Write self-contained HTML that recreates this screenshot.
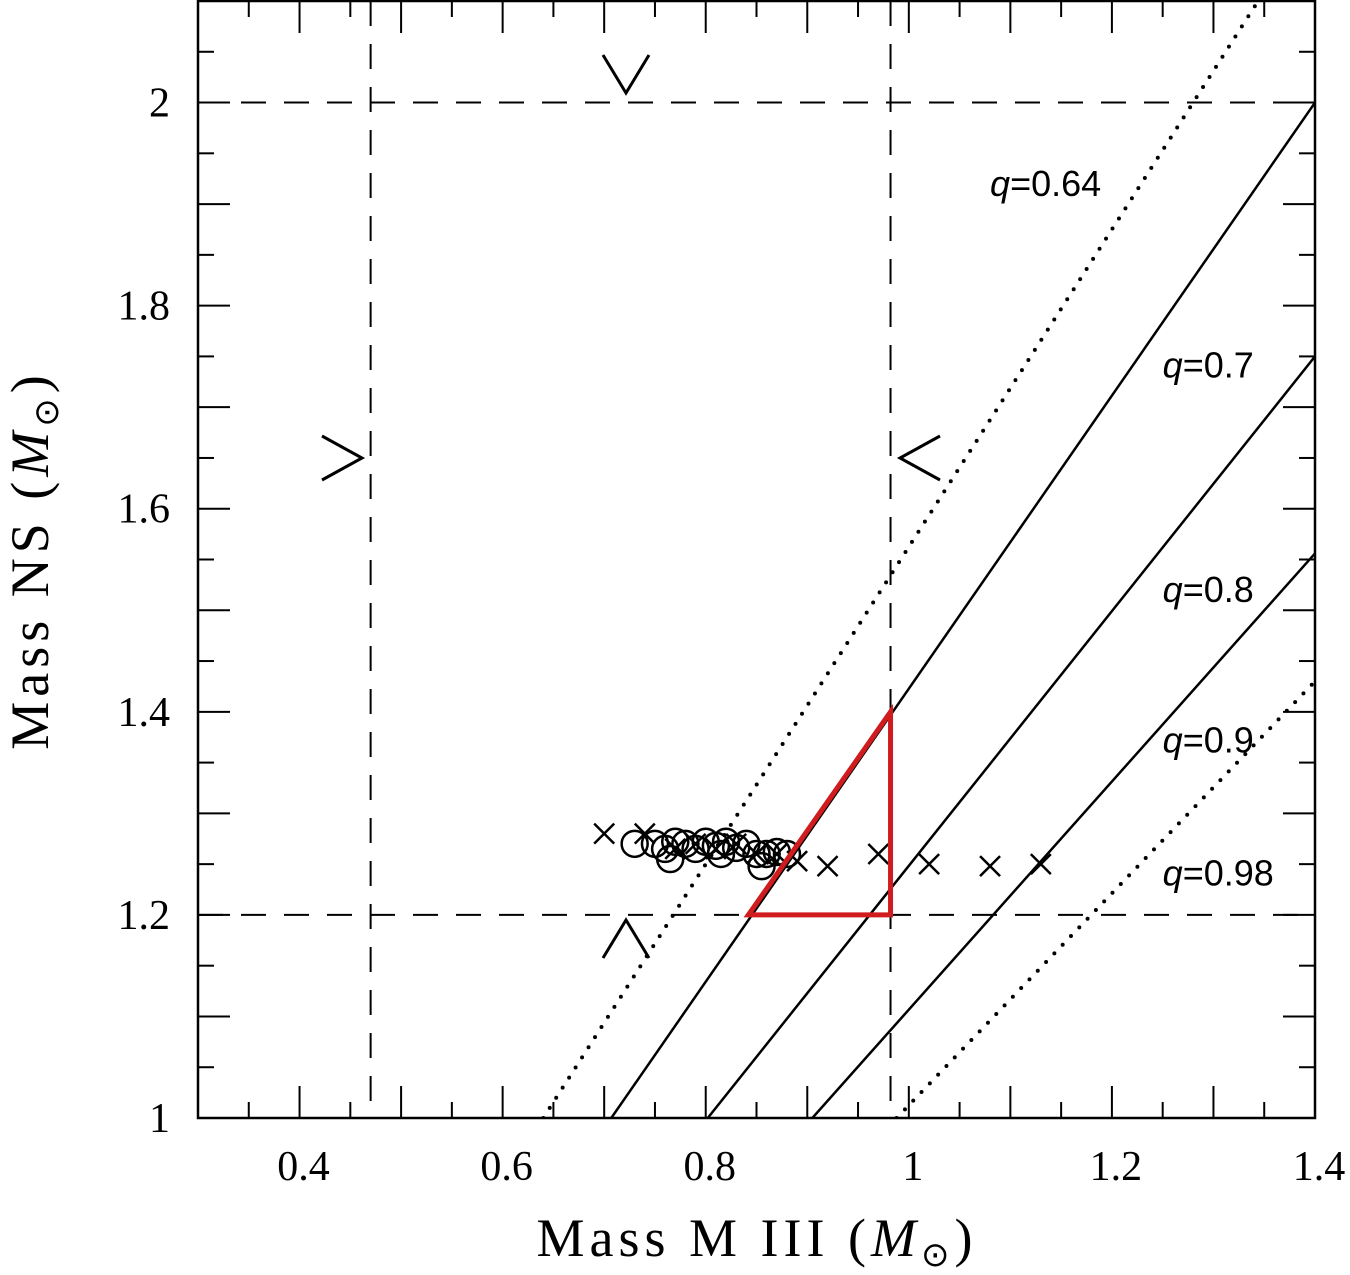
<!DOCTYPE html>
<html><head><meta charset="utf-8"><style>
html,body{margin:0;padding:0;background:#fff;width:1350px;height:1275px;overflow:hidden}
svg{display:block}
</style></head><body>
<svg id="chart" width="1350" height="1275" viewBox="0 0 1350 1275" xmlns="http://www.w3.org/2000/svg">
<g id="plot"></g>
</svg>
<script>
const xTicks=[0.4,0.6,0.8,1,1.2,1.4];
const xTickLabels=["0.4","0.6","0.8","1","1.2","1.4"];
const yTicks=[1,1.2,1.4,1.6,1.8,2];
const yTickLabels=["1","1.2","1.4","1.6","1.8","2"];
const qLabels=["0.64","0.7","0.8","0.9","0.98"];
const qDotted=[true,false,false,false,true];
const qStartX=[0.640,0.707,0.802,0.905,0.988];
const qEndY=[2.1875,2.0,1.75,1.556,1.43];
const qLabelX=[1.08,1.25,1.25,1.25,1.25];
const qLabelY=[1.908,1.729,1.508,1.36,1.229];
const limitX=[0.47,0.982];
const limitY=[1.2,2.0];
const triangleX=[0.842,0.982,0.982];
const triangleY=[1.2,1.2,1.4];
const crossX=[0.70,0.74,0.77,0.79,0.81,0.83,0.85,0.87,0.89,0.92,0.97,1.02,1.08,1.13];
const crossY=[1.28,1.28,1.265,1.27,1.265,1.27,1.26,1.26,1.253,1.248,1.26,1.25,1.248,1.25];
const circX=[0.73,0.75,0.76,0.765,0.77,0.78,0.79,0.80,0.81,0.815,0.82,0.83,0.84,0.85,0.855,0.86,0.87,0.88];
const circY=[1.27,1.27,1.265,1.255,1.272,1.27,1.265,1.272,1.268,1.26,1.272,1.266,1.27,1.26,1.248,1.26,1.262,1.26];

const X0=0.3,X1=1.4,Y0=1,Y1=2.1,L=198,R=1315,T=1,B=1118;
const sx=v=>L+(v-X0)/(X1-X0)*(R-L);
const sy=v=>B-(v-Y0)/(Y1-Y0)*(B-T);
const NS="http://www.w3.org/2000/svg";
const g=document.getElementById('plot');
function mk(tag,attrs,parent){const e=document.createElementNS(NS,tag);for(const k in attrs)e.setAttribute(k,attrs[k]);(parent||g).appendChild(e);return e;}
const clip=mk('clipPath',{id:'clip'});mk('rect',{x:L,y:T,width:R-L,height:B-T},clip);

for(let i=0;i<=22;i++){const v=X0+i*0.05;const x=sx(v);const len=(i%2===0)?32:16;
 let t=mk('line',{x1:x,y1:B,x2:x,y2:B-len,stroke:'#000','stroke-width':2});
 
 t=mk('line',{x1:x,y1:T,x2:x,y2:T+len,stroke:'#000','stroke-width':2});
 }
for(let i=0;i<=22;i++){const v=Y0+i*0.05;const y=sy(v);const len=(i%2===0)?32:16;
 let t=mk('line',{x1:L,y1:y,x2:L+len,y2:y,stroke:'#000','stroke-width':2});
 
 t=mk('line',{x1:R,y1:y,x2:R-len,y2:y,stroke:'#000','stroke-width':2});
 }
xTicks.forEach((v,i)=>{const t=mk('text',{x:sx(v)+4,y:1180,'font-family':'Liberation Serif, serif','font-size':42,'text-anchor':'middle'});t.textContent=xTickLabels[i];
 });
yTicks.forEach((v,i)=>{const t=mk('text',{x:170,y:sy(v)+14,'font-family':'Liberation Serif, serif','font-size':42,'text-anchor':'end'});t.textContent=yTickLabels[i];
 });

limitX.forEach(v=>{const l=mk('line',{x1:sx(v),y1:T,x2:sx(v),y2:B,stroke:'#000','stroke-width':2,'stroke-dasharray':'25,18'});
 });
limitY.forEach(v=>{const l=mk('line',{x1:L,y1:sy(v),x2:R,y2:sy(v),stroke:'#000','stroke-width':2,'stroke-dasharray':'25,18'});
 });

const cg=mk('g',{'clip-path':'url(#clip)'});
qLabels.forEach((q,i)=>{const a={x1:sx(qStartX[i]),y1:sy(Y0),x2:sx(X1),y2:sy(qEndY[i]),stroke:'#000','stroke-width':qDotted[i]?4:2.5};
 if(qDotted[i]){a['stroke-dasharray']='0,12';a['stroke-linecap']='round';}
 const l=mk('line',a,cg);
 const t=mk('text',{x:sx(qLabelX[i]),y:sy(qLabelY[i]),'font-family':'Liberation Sans, sans-serif','font-size':36});
 t.innerHTML='<tspan font-style="italic">q</tspan>='+q;
 });

[[[322,436],[362,458],[322,480]],[[940,436],[900,458],[940,480]],[[603,55],[626,93],[649,55]],[[603,958],[626,920],[649,958]]].forEach(p=>{
 const a=mk('polyline',{points:p.map(q=>q.join(',')).join(' '),fill:'none',stroke:'#000','stroke-width':3});
 });

circX.forEach((v,i)=>{const c=mk('circle',{cx:sx(v),cy:sy(circY[i]),r:13,fill:'none',stroke:'#000','stroke-width':2.5});
 });
crossX.forEach((v,i)=>{const x=sx(v),y=sy(crossY[i]),d=10;
 const p=mk('path',{d:`M${x-d},${y-d}L${x+d},${y+d}M${x-d},${y+d}L${x+d},${y-d}`,stroke:'#000','stroke-width':2.5,fill:'none'});
 });

const tri=mk('polygon',{points:triangleX.map((v,i)=>sx(v)+','+sy(triangleY[i])).join(' '),fill:'none',stroke:'#d01c1f','stroke-width':5});


const fr=mk('rect',{x:L,y:T,width:R-L,height:B-T,fill:'none',stroke:'#000','stroke-width':2.5});


const xt=mk('text',{x:757,y:1256,'font-family':'Liberation Serif, serif','font-size':54,'text-anchor':'middle','letter-spacing':5});
xt.innerHTML='Mass M III (<tspan font-style="italic">M</tspan><tspan font-size="34" dy="10">⊙</tspan><tspan dy="-10">)</tspan>';

const yt=mk('text',{x:0,y:0,'font-family':'Liberation Serif, serif','font-size':54,'text-anchor':'middle','letter-spacing':5,transform:'translate(48,560) rotate(-90)'});
yt.innerHTML='Mass NS (<tspan font-style="italic">M</tspan><tspan font-size="34" dy="10">⊙</tspan><tspan dy="-10">)</tspan>';

</script>
</body></html>
